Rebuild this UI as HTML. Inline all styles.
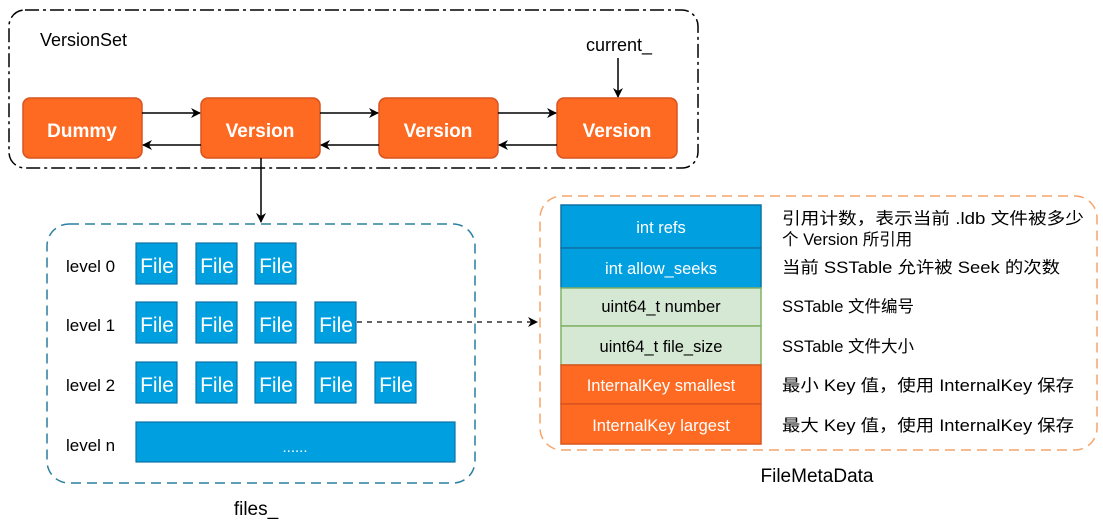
<!DOCTYPE html>
<html><head><meta charset="utf-8"><style>
html,body{margin:0;padding:0;background:#fff;width:1103px;height:525px;overflow:hidden}
text{font-family:"Liberation Sans","Noto Sans CJK SC",sans-serif}
</style></head><body>
<svg width="1103" height="525" viewBox="0 0 1103 525" xmlns="http://www.w3.org/2000/svg">
<defs>
<marker id="a" markerWidth="10" markerHeight="10" refX="9" refY="5" orient="auto" markerUnits="userSpaceOnUse"><path d="M0,0 L10,5 L0,10 L3,5 z" fill="#000"/></marker>
</defs>
<rect x="9" y="10" width="689" height="158" rx="16" fill="none" stroke="#000" stroke-width="1.5" stroke-dasharray="14,4,3,4"/>
<text x="40" y="46" font-size="18" fill="#000">VersionSet</text>
<text x="619" y="51" font-size="18" fill="#000" text-anchor="middle">current_</text>
<line x1="618" y1="58" x2="618" y2="97" stroke="#000" stroke-width="1.5" marker-end="url(#a)"/>
<g fill="#fe6a22" stroke="#d9541e" stroke-width="1.5">
<rect x="23" y="98" width="119" height="60" rx="7"/>
<rect x="201" y="98" width="119" height="60" rx="7"/>
<rect x="379" y="98" width="119" height="60" rx="7"/>
<rect x="557" y="98" width="120" height="60" rx="7"/>
</g>
<g font-size="19" fill="#fff" font-weight="bold" text-anchor="middle">
<text x="82" y="137">Dummy</text><text x="260" y="137">Version</text><text x="438" y="137">Version</text><text x="617" y="137">Version</text>
</g>
<g stroke="#000" stroke-width="1.5" marker-end="url(#a)">
<line x1="142" y1="113" x2="200" y2="113"/><line x1="320" y1="113" x2="378" y2="113"/><line x1="498" y1="113" x2="556" y2="113"/>
<line x1="201" y1="145" x2="143" y2="145"/><line x1="379" y1="145" x2="321" y2="145"/><line x1="557" y1="145" x2="499" y2="145"/>
<line x1="261" y1="158" x2="261" y2="222"/>
</g>
<rect x="47" y="224" width="428" height="259" rx="22" fill="none" stroke="#2a7fa0" stroke-width="1.5" stroke-dasharray="10,6"/>
<g font-size="17" fill="#000"><text x="66" y="272">level 0</text><text x="66" y="331">level 1</text><text x="66" y="391">level 2</text><text x="66" y="451">level n</text></g>
<g fill="#009fe0" stroke="#0e72a6" stroke-width="1.2">
<rect x="136" y="243" width="41" height="41"/><rect x="196" y="243" width="41" height="41"/><rect x="255" y="243" width="41" height="41"/>
<rect x="136" y="302" width="41" height="41"/><rect x="196" y="302" width="41" height="41"/><rect x="255" y="302" width="41" height="41"/><rect x="315" y="302" width="41" height="41"/>
<rect x="136" y="362" width="41" height="41"/><rect x="196" y="362" width="41" height="41"/><rect x="255" y="362" width="41" height="41"/><rect x="315" y="362" width="41" height="41"/><rect x="375" y="362" width="41" height="41"/>
<rect x="136" y="422" width="319" height="40"/>
</g>
<g font-size="21" fill="#fff" text-anchor="middle">
<text x="157" y="273">File</text><text x="217" y="273">File</text><text x="276" y="273">File</text>
<text x="157" y="332">File</text><text x="217" y="332">File</text><text x="276" y="332">File</text><text x="336" y="332">File</text>
<text x="157" y="392">File</text><text x="217" y="392">File</text><text x="276" y="392">File</text><text x="336" y="392">File</text><text x="396" y="392">File</text>
<text x="295" y="452" font-size="15">......</text>
</g>
<text x="256" y="515" font-size="19" fill="#000" text-anchor="middle">files_</text>
<line x1="357" y1="322" x2="537" y2="322" stroke="#333" stroke-width="1.5" stroke-dasharray="5,5" marker-end="url(#a)"/>
<rect x="540" y="196" width="557" height="254" rx="22" fill="none" stroke="#f6a46a" stroke-width="1.5" stroke-dasharray="10,6"/>
<g stroke-width="1.5">
<rect x="561" y="205" width="200" height="43" fill="#009fe0" stroke="#0e72a6"/>
<rect x="561" y="248" width="200" height="40" fill="#009fe0" stroke="#0e72a6"/>
<rect x="561" y="288" width="200" height="38" fill="#d5e8d4" stroke="#82b366"/>
<rect x="561" y="326" width="200" height="39" fill="#d5e8d4" stroke="#82b366"/>
<rect x="561" y="365" width="200" height="39" fill="#fe6a22" stroke="#d9541e"/>
<rect x="561" y="404" width="200" height="40" fill="#fe6a22" stroke="#d9541e"/>
</g>
<g font-size="16.5" text-anchor="middle">
<text x="661" y="233" fill="#fff">int refs</text>
<text x="661" y="274" fill="#fff">int allow_seeks</text>
<text x="661" y="312" fill="#000">uint64_t number</text>
<text x="661" y="352" fill="#000">uint64_t file_size</text>
<text x="661" y="391" fill="#fff">InternalKey smallest</text>
<text x="661" y="431" fill="#fff">InternalKey largest</text>
</g>
<g font-size="16.5" fill="#000">
<text x="782" y="224" textLength="302" lengthAdjust="spacingAndGlyphs">引用计数，表示当前 .ldb 文件被多少</text>
<text x="782" y="245">个 Version 所引用</text>
<text x="782" y="273" textLength="278" lengthAdjust="spacingAndGlyphs">当前 SSTable 允许被 Seek 的次数</text>
<text x="782" y="312">SSTable 文件编号</text>
<text x="782" y="352">SSTable 文件大小</text>
<text x="782" y="391" textLength="292" lengthAdjust="spacingAndGlyphs">最小 Key 值，使用 InternalKey 保存</text>
<text x="782" y="431" textLength="292" lengthAdjust="spacingAndGlyphs">最大 Key 值，使用 InternalKey 保存</text>
</g>
<text x="817" y="482" font-size="19" fill="#000" text-anchor="middle">FileMetaData</text>
</svg>
</body></html>
